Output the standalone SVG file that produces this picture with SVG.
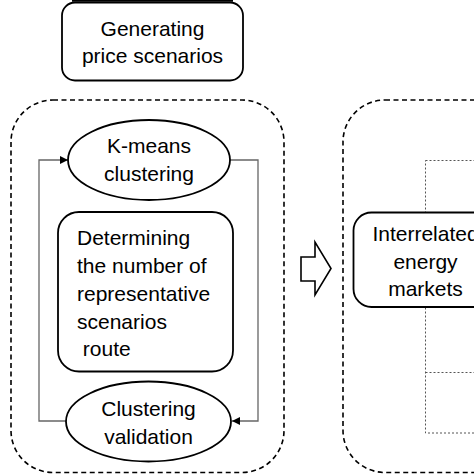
<svg xmlns="http://www.w3.org/2000/svg" width="474" height="474" viewBox="0 0 474 474">
<style>
text{font-family:"Liberation Sans",Arial,sans-serif;font-size:21px;fill:#000}
.c{text-anchor:middle}
.box{fill:#fff;stroke:#000;stroke-width:1.8}
.cont{fill:none;stroke:#000;stroke-width:1.6;stroke-dasharray:5 3.5}
.dot{fill:none;stroke:#555;stroke-width:1;stroke-dasharray:2 2}
.loop{fill:none;stroke:#666;stroke-width:1.3}
</style>
<defs>
<marker id="ah" viewBox="0 0 10 10" refX="10" refY="5" markerWidth="8" markerHeight="8" markerUnits="userSpaceOnUse" orient="auto">
<path d="M0,0 L10,5 L0,10 z" fill="#000"/>
</marker>
</defs>
<rect width="474" height="474" fill="#fff"/>
<line x1="72" y1="0.8" x2="233" y2="0.8" stroke="#000" stroke-width="2"/>
<g id="containers">
<rect class="cont" x="11" y="100" width="273" height="372.5" rx="42"/>
<rect class="cont" x="343" y="100" width="200" height="372.5" rx="42"/>
<rect class="dot" x="425.5" y="160.5" width="100" height="272.5"/>
<line class="dot" x1="425.5" y1="372.5" x2="474" y2="372.5"/>
</g>
<g id="connectors">
<path class="loop" d="M66,421 H39 V160 H68" marker-end="url(#ah)"/>
<path class="loop" d="M230,160 H258 V421 H232" marker-end="url(#ah)"/>
<path d="M301,257 H315 V242 L331,268.5 L315,295 V281 H301 Z" fill="#fff" stroke="#000" stroke-width="1.6"/>
</g>
<g id="gen">
<rect class="box" x="62" y="2.5" width="181" height="78" rx="13"/>
<text class="c" x="152.5" y="36">Generating</text>
<text class="c" x="152.5" y="63">price scenarios</text>
</g>
<g id="kmeans">
<ellipse class="box" cx="149" cy="160" rx="81" ry="40"/>
<text class="c" x="149" y="153">K-means</text>
<text class="c" x="149" y="181">clustering</text>
</g>
<g id="determine">
<rect class="box" x="58" y="212" width="175" height="159.5" rx="21"/>
<text x="77" y="245">Determining</text>
<text x="77" y="273">the number of</text>
<text x="77" y="300.5">representative</text>
<text x="77" y="328.5">scenarios</text>
<text x="77" y="356" xml:space="preserve"> route</text>
</g>
<g id="validation">
<ellipse class="box" cx="148.5" cy="421.5" rx="82.5" ry="40"/>
<text class="c" x="148.5" y="416">Clustering</text>
<text class="c" x="148.5" y="444">validation</text>
</g>
<g id="markets">
<rect class="box" x="353.5" y="212.5" width="150" height="94.5" rx="18"/>
<text class="c" x="425.5" y="241">Interrelated</text>
<text class="c" x="425.5" y="268.5">energy</text>
<text class="c" x="425.5" y="296">markets</text>
</g>
</svg>
